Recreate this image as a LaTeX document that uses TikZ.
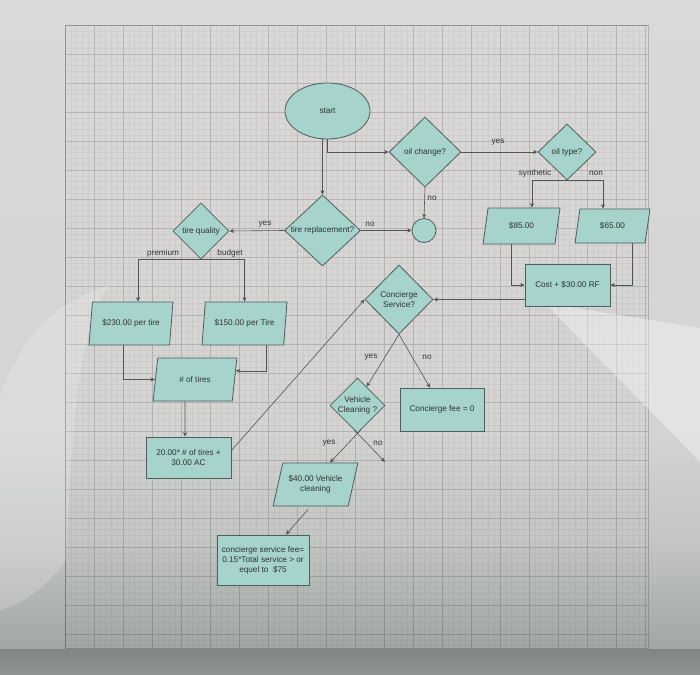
\documentclass[tikz,border=0pt]{standalone}
\usepackage{fontspec}
\setmainfont{Liberation Sans}
\usetikzlibrary{shapes.geometric,arrows.meta,calc}
\definecolor{fillc}{HTML}{A6D3CC}
\definecolor{edgec}{HTML}{4F5E5B}
\definecolor{linec}{HTML}{505553}
\definecolor{txtc}{HTML}{2E3432}
\definecolor{bgA}{HTML}{DBD9D8}
\definecolor{bgB}{HTML}{D4D4D3}
\definecolor{bgC}{HTML}{C3C6C3}
\definecolor{bgD}{HTML}{A2A7A3}
\definecolor{bgE}{HTML}{8E948F}
\begin{document}
\begin{tikzpicture}[x=1pt,y=-1pt,
  every node/.style={font=\fontsize{8.2}{10}\selectfont, text=txtc},
  shp/.style={draw=edgec, line width=0.8pt, fill=fillc, inner sep=0pt, align=center},
  dia/.style n args={2}{shp, diamond, minimum width=#1, minimum height=#2},
  para/.style n args={3}{shp, trapezium, trapezium left angle=#3, trapezium right angle=180-#3,
      trapezium stretches=true, minimum width=#1, minimum height=#2},
  rect/.style n args={2}{shp, rectangle, minimum width=#1, minimum height=#2},
  ell/.style={shp, ellipse, minimum width=85pt, minimum height=56pt},
  arr/.style={draw=linec, line width=0.6pt, -{Stealth[length=4.5pt,width=4pt]}},
  lbl/.style={inner sep=0pt}
]
\useasboundingbox (0,0) rectangle (700,674);
% photo background
\shade[top color=bgA, bottom color=bgB] (0,0) rectangle (700,430.5);
\shade[top color=bgB, bottom color=bgC] (0,430) rectangle (700,540.5);
\shade[top color=bgC, bottom color=bgD] (0,540) rectangle (700,649);
\shade[top color=bgD!80!black, bottom color=bgE] (0,649) rectangle (700,674);
% grid
\begin{scope}[shift={(65,25)}]
  \draw[black, opacity=0.045, line width=0.35pt, step=5.8pt] (0,0) grid (583,623);
  \draw[black, opacity=0.12, line width=0.5pt, step=29pt] (0,0) grid (583,623);
  \draw[black, opacity=0.18, line width=0.6pt] (0,0) rectangle (583,623);
\end{scope}
% glare of the photo
\fill[white, opacity=0.18] (0,395) .. controls (25,330) and (60,300) .. (110,285)
   .. controls (80,320) and (72,420) .. (66,560) .. controls (45,590) and (20,605) .. (0,610) -- cycle;
\fill[white, opacity=0.35] (545,303) -- (700,328) -- (700,462)
   .. controls (640,400) and (590,350) .. (545,303) -- cycle;

% nodes
\node[ell] (start) at (327.5,111) {start};
\node[dia={72}{70}, label=center:{oil change?}] (oc) at (425,152) {};
\node[dia={76}{71}, label=center:{tire replacement?}] (tr) at (322.5,230.5) {};
\node[shp, circle, minimum size=24pt] (circ) at (424,230.5) {};
\node[dia={56}{56}, label=center:{tire quality}] (tq) at (201,231) {};
\node[para={84}{43}{72}] (p230) at (131,323.5) {\$230.00 per tire};
\node[para={85}{43}{72}] (p150) at (244.5,323.5) {\$150.00 per Tire};
\node[para={84}{43}{72}] (ntires) at (195,379.5) {\# of tires};
\node[rect={85}{41}] (b20) at (188.5,457.5) {20.00* \# of tires +\\30.00 AC};
\node[dia={68}{69}, label={[align=center]center:Concierge\\Service?}] (cs) at (399,299.5) {};
\node[rect={85}{42}] (cost) at (567.5,285) {Cost + \$30.00 RF};
\node[dia={58}{56}, label=center:{oil type?}] (ot) at (567,152) {};
\node[para={77}{36}{74}] (p85) at (521.5,226) {\$85.00};
\node[para={75}{34}{74}] (p65) at (612.5,226) {\$65.00};
\node[rect={84}{43}] (cf0) at (442,409.5) {Concierge fee = 0};
\node[dia={55}{55}, label={[align=center]center:Vehicle\\Cleaning ?}] (vc) at (357.5,405.5) {};
\node[para={85}{43}{66}] (p40) at (315.5,484.5) {\$40.00 Vehicle\\cleaning};
\node[rect={92}{50}] (fee) at (263,560) {concierge service fee=\\0.15*Total service > or\\equel to\ \ \$75};
\coordinate (vcno) at (385,462);

% connectors
\draw[arr] (start.south -| tr.north) -- (tr.north);
\draw[arr] (start.south) |- (oc.west);
\draw[arr] (oc.south) -- (circ.north);
\draw[arr] (tr.east) -- (circ.west);
\draw[arr] (tr.west) -- (tq.east);
\draw[arr] (tq.south) -| ([xshift=7pt]p230.north);
\draw[arr] (tq.south) -| (p150.north);
\draw[arr] ([xshift=-8pt]p230.south) |- (ntires.west);
\draw[arr] ([xshift=22pt]p150.south) |- (ntires.12);
\draw[arr] ([xshift=-10pt]ntires.south) -- ([xshift=-3.5pt]b20.north);
\draw[arr] ([yshift=7pt]b20.east) -- (cs.west);
\draw[arr] (cs.east -| cost.west) -- (cs.east);
\draw[arr] (oc.east) -- (ot.west);
\draw[arr] (ot.south) -| ([xshift=10.5pt]p85.north);
\draw[arr] (ot.south) -| ([xshift=-9.5pt]p65.north);
\draw[arr] ([xshift=-10.5pt]p85.south) |- (cost.west);
\draw[arr] ([xshift=19.5pt]p65.south) |- (cost.east);
\draw[arr] (cs.south) -- (vc.64);
\draw[arr] (cs.south) -- ([xshift=-12pt]cf0.north);
\draw[arr, shorten <=-5pt] (vc.south) -- ([xshift=14.5pt]p40.north);
\draw[arr, shorten <=-5pt] (vc.south) -- (vcno);
\draw[arr] ([xshift=-7.5pt,yshift=-3pt]p40.south) -- ([xshift=23pt]fee.north);

% labels
\node[lbl] (l1) at (265,224) {yes};
\node[lbl] (l2) at (370,224) {no};
\node[lbl] (l3) at (432,198) {no};
\node[lbl] (l4) at (498,142) {yes};
\node[lbl] (l5) at (535,173) {synthetic};
\node[lbl] (l6) at (596,173) {non};
\node[lbl] (l7) at (163,253) {premium};
\node[lbl] (l8) at (230,253) {budget};
\node[lbl] (l9) at (371,357) {yes};
\node[lbl] (l10) at (427,357) {no};
\node[lbl] (l11) at (329,443) {yes};
\node[lbl] (l12) at (378,443) {no};
\end{tikzpicture}
\end{document}
